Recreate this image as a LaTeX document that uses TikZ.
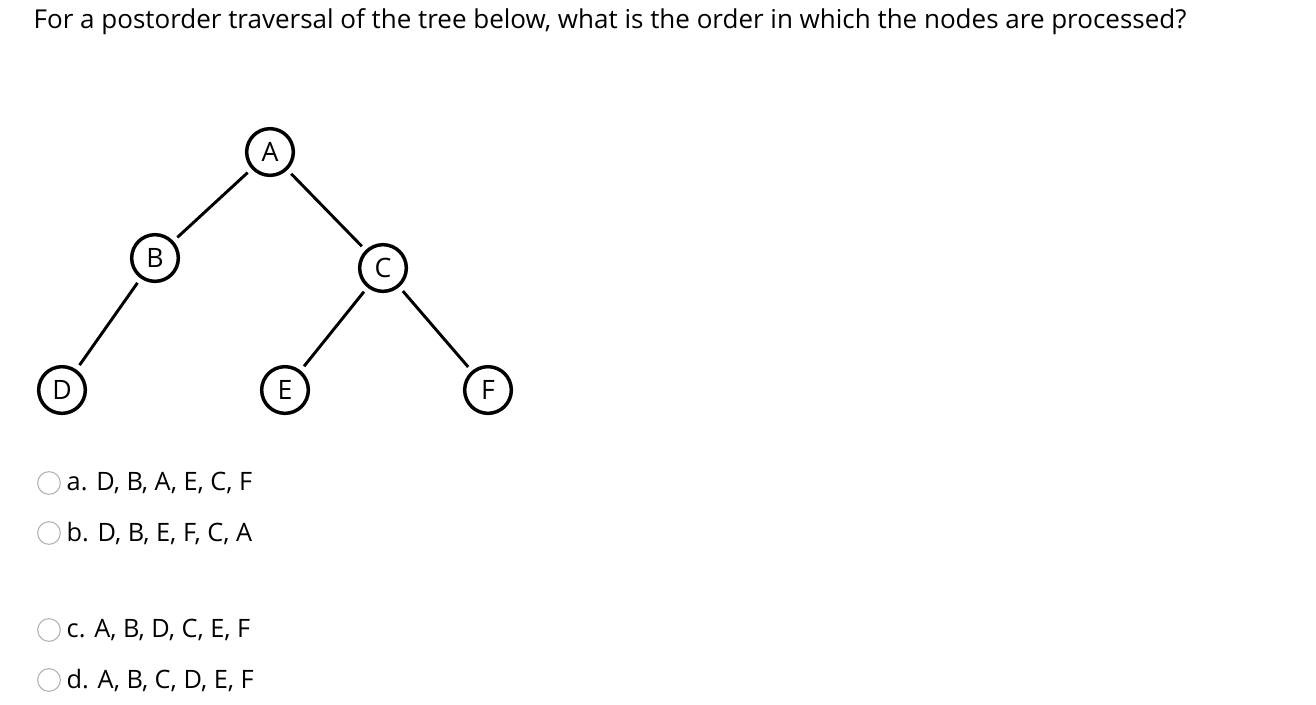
\documentclass[tikz,border=0pt]{standalone}
\usepackage{fontspec}
\setmainfont{Open Sans}
\begin{document}
\begin{tikzpicture}[x=0.75pt,y=-0.75pt,
  tn/.style={circle,draw,line width=2.6pt,minimum size=35pt,inner sep=0pt,font=\fontsize{20}{20}\selectfont},
  ed/.style={line width=2.2pt,shorten <=4pt,shorten >=4pt},
  rb/.style={circle,draw=gray!60,line width=0.8pt,minimum size=17pt,inner sep=0pt},
  opt/.style={anchor=west,font=\fontsize{19}{19}\selectfont}]
\useasboundingbox (0,0) rectangle (1316,704);
\node[anchor=west,font=\fontsize{19.5}{19.5}\selectfont] (q) at (29,22) {For a postorder traversal of the tree below, what is the order in which the nodes are processed?};
\node[tn] (A) at (270,152) {A};
\node[tn] (B) at (155,258) {B};
\node[tn] (C) at (383,268) {C};
\node[tn] (D) at (62,390) {D};
\node[tn] (E) at (285,390) {E};
\node[tn] (F) at (488,390) {F};
\draw[ed] (A) -- (B);
\draw[ed] (A) -- (C);
\draw[ed] (B) -- (D);
\draw[ed] (C) -- (E);
\draw[ed] (C) -- (F);
\node[rb] (r1) at (49,483) {};
\node[rb] (r2) at (49,533) {};
\node[rb] (r3) at (49,630) {};
\node[rb] (r4) at (49,680) {};
\node[opt] (o1) at (62,483) {a. D, B, A, E, C, F};
\node[opt] (o2) at (62,533) {b. D, B, E, F, C, A};
\node[opt] (o3) at (62,630) {c. A, B, D, C, E, F};
\node[opt] (o4) at (62,680) {d. A, B, C, D, E, F};
\end{tikzpicture}
\end{document}
